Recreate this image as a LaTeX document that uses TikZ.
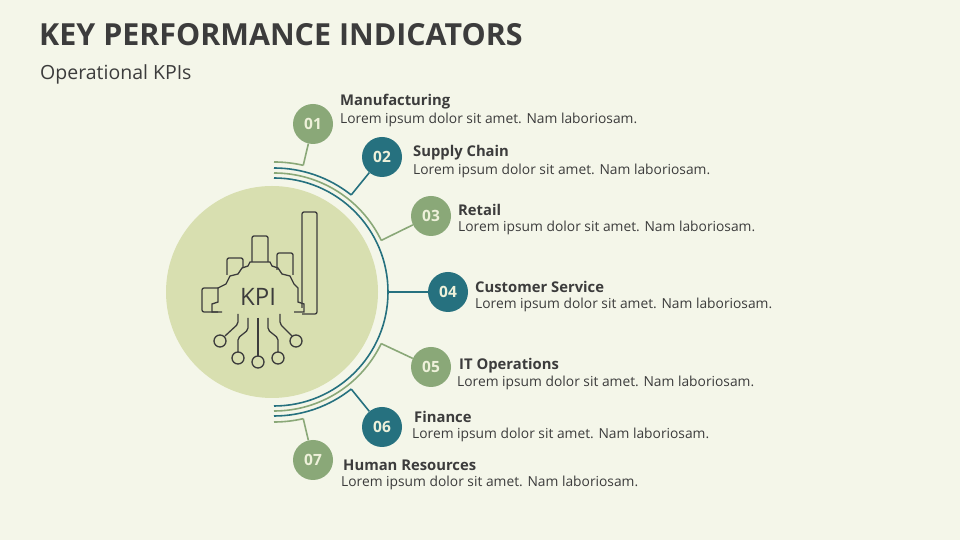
\documentclass[tikz,border=0pt]{standalone}
\usepackage{fontspec}
\setmainfont{Open Sans}
\usetikzlibrary{positioning}
\definecolor{bgc}{HTML}{F4F6E9}
\definecolor{sage}{HTML}{8AA878}
\definecolor{teal}{HTML}{26717F}
\definecolor{pale}{HTML}{D8DFB0}
\definecolor{ink}{HTML}{3C3C3C}
\definecolor{numc}{HTML}{EEF1DA}
\begin{document}
\begin{tikzpicture}[x=1pt, y=1pt,
                    num/.style={circle, fill=#1, minimum size=40pt, inner sep=0pt, text=numc, font=\fontsize{15.5}{16}\selectfont\bfseries},
                    head/.style={anchor=west, inner sep=0pt, text=ink, font=\fontsize{14.8}{15}\selectfont\bfseries},
                    desc/.style={anchor=west, inner sep=0pt, text=ink, font=\fontsize{13.8}{14}\selectfont},
                    ring/.style={line width=1.6pt, #1},
                    icon/.style={draw=ink, line width=1.3pt, rounded corners=2pt}]

\fill[bgc] (0,0) rectangle (960,540);
\useasboundingbox (0,0) rectangle (960,540);

\node[anchor=west, inner sep=0pt, text=ink, font=\fontsize{30.4}{31}\selectfont\bfseries] (title) at (39,505) {KEY PERFORMANCE INDICATORS};
\node[anchor=west, inner sep=0pt, text=ink, font=\fontsize{19.5}{20}\selectfont] (sub) at (40,466) {Operational KPIs};

\coordinate (c) at (274,248);
\fill[pale] (272,248) circle (106);

% rings
\draw[ring=sage] ([shift={(90:130)}]c) arc (90:77:130) coordinate (e1);
\draw[ring=sage] ([shift={(-90:130)}]c) arc (-90:-77:130) coordinate (e7);
\draw[ring=teal] ([shift={(90:124)}]c) arc (90:51.5:124) coordinate (e2);
\draw[ring=teal] ([shift={(-90:124)}]c) arc (-90:-51.5:124) coordinate (e6);
\draw[ring=sage] ([shift={(90:119)}]c) arc (90:25.7:119) coordinate (e3);
\draw[ring=sage] ([shift={(-90:119)}]c) arc (-90:-25.7:119) coordinate (e5);
\draw[ring=teal] ([shift={(90:114)}]c) arc (90:0:114) coordinate (e4) arc (0:-90:114);

% items
\node[num=sage] (n1) at (313,416) {01};
\node[num=teal] (n2) at (382,383) {02};
\node[num=sage] (n3) at (431,324) {03};
\node[num=teal] (n4) at (448,248) {04};
\node[num=sage] (n5) at (431,173) {05};
\node[num=teal] (n6) at (382,113) {06};
\node[num=sage] (n7) at (313,80) {07};

\draw[ring=sage] (e1) -- (n1);
\draw[ring=teal] (e2) -- (n2);
\draw[ring=sage] (e3) -- (n3);
\draw[ring=teal] (e4) -- (n4);
\draw[ring=sage] (e5) -- (n5);
\draw[ring=teal] (e6) -- (n6);
\draw[ring=sage] (e7) -- (n7);

\node[head] (h1) at (340,438) {Manufacturing};
\node[desc] (d1) at (340,420) {Lorem ipsum dolor sit amet. Nam laboriosam.};
\node[head] (h2) at (413,387) {Supply Chain};
\node[desc] (d2) at (413,369) {Lorem ipsum dolor sit amet. Nam laboriosam.};
\node[head] (h3) at (458,330) {Retail};
\node[desc] (d3) at (458,312) {Lorem ipsum dolor sit amet. Nam laboriosam.};
\node[head] (h4) at (475,253) {Customer Service};
\node[desc] (d4) at (475,235) {Lorem ipsum dolor sit amet. Nam laboriosam.};
\node[head] (h5) at (459,174) {IT Operations};
\node[desc] (d5) at (457,157) {Lorem ipsum dolor sit amet. Nam laboriosam.};
\node[head] (h6) at (414,123) {Finance};
\node[desc] (d6) at (412,105) {Lorem ipsum dolor sit amet. Nam laboriosam.};
\node[head] (h7) at (343,75) {Human Resources};
\node[desc] (d7) at (341,57) {Lorem ipsum dolor sit amet. Nam laboriosam.};

% icon
\draw[icon] (302,226) -- (317,226) -- (317,328) -- (302,328) -- (302,232);
\draw[icon] (252,278) -- (252,304) -- (268,304) -- (268,278);
\draw[icon] (227,265) -- (227,282) -- (243,282) -- (243,272);
\draw[icon] (277,270) -- (277,287) -- (293,287) -- (293,265);
\draw[icon] (218,228) -- (202,228) -- (202,252) -- (218,252);
\draw[icon, rounded corners=0pt] (222,228) -- (212,228) -- (212,236) -- (218,238) -- (218,252) -- (226,256) -- (230,264) -- (238,266)
  -- (242,272) -- (248,274) -- (250,278) -- (270,278) -- (272,274) -- (278,272) -- (282,266) -- (290,264) -- (294,256) -- (298,252) -- (298,238) -- (304,236) -- (304,228) -- (294,228);
\node[text=ink, inner sep=0pt, font=\fontsize{24}{24}\selectfont] (kpi) at (258,243) {KPI};
\draw[icon] (258,222) -- (258,184);
\draw[icon] (248,222) -- (248,210) -- (238,202) -- (238,188);
\draw[icon] (268,222) -- (268,210) -- (278,202) -- (278,188);
\draw[icon] (238,226) -- (238,216) -- (225,204);
\draw[icon] (280,226) -- (280,216) -- (292,204);
\foreach \p in {(220,199),(238,182),(258,178),(278,182),(296,199)}
  \draw[icon] \p circle (6);
\end{tikzpicture}
\end{document}
